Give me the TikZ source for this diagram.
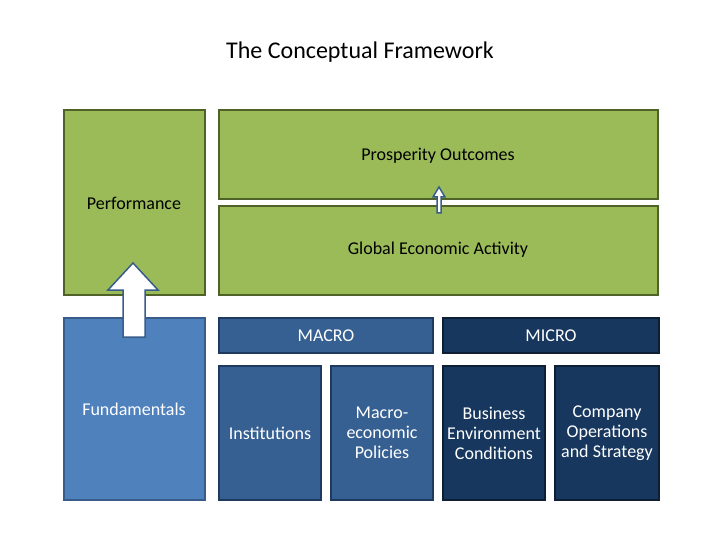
\documentclass[tikz,border=0pt]{standalone}
\usepackage{fontspec}
\setmainfont{Carlito}
\begin{document}
\begin{tikzpicture}[x=1pt,y=-1pt,
  gbox/.style={draw=gbdr,fill=grn,line width=1.5pt},
  bbox/.style={draw=bdr,fill=blu,line width=1.5pt},
  mbox/.style={draw=mbdr,fill=mac,line width=1.5pt},
  nbox/.style={draw=nbdr,fill=mic,line width=1.5pt},
  wt/.style={text=white,font=\fontsize{18}{20}\selectfont,align=center},
  bt/.style={text=black,font=\fontsize{18}{20}\selectfont,align=center},
  arr/.style={draw=bdr,fill=white,line width=1.5pt}]
\definecolor{grn}{HTML}{9BBB59}
\definecolor{gbdr}{HTML}{4F6228}
\definecolor{blu}{HTML}{4F81BD}
\definecolor{bdr}{HTML}{385D8A}
\definecolor{mac}{HTML}{376092}
\definecolor{mbdr}{HTML}{1F3A5F}
\definecolor{mic}{HTML}{17375E}
\definecolor{nbdr}{HTML}{0F1F33}
\path[use as bounding box] (0,0) rectangle (720,540);
\node[font=\fontsize{24}{26}\selectfont] (title) at (360,52) {The Conceptual Framework};
\draw[gbox] (64,110) rectangle (205,295);
\draw[gbox] (219,110) rectangle (658,199);
\draw[gbox] (219,206) rectangle (658,295);
\draw[bbox] (64,318) rectangle (205,500);
\draw[mbox] (219,318) rectangle (433,353);
\draw[nbox] (443,318) rectangle (659,353);
\draw[mbox] (219,366) rectangle (321,500);
\draw[mbox] (331,366) rectangle (433,500);
\draw[nbox] (443,366) rectangle (545,500);
\draw[nbox] (555,366) rectangle (659,500);
\node[bt] (perf) at (134,203) {Performance};
\node[bt] (pros) at (438,156) {Prosperity Outcomes};
\node[bt] (gea) at (438,250) {Global Economic Activity};
\node[wt] (fund) at (134,409) {Fundamentals};
\node[wt] (macro) at (326,336) {MACRO};
\node[wt] (micro) at (551,336) {MICRO};
\node[wt] (inst) at (270,433) {Institutions};
\node[wt] (mep) at (382,433) {Macro-\\economic\\Policies};
\node[wt] (bec) at (494,433) {Business\\Environment\\Conditions};
\node[wt] (cos) at (607,433) {Company\\Operations\\and Strategy};
\draw[arr] (123,337) -- (123,290) -- (108,290) -- (133,263) -- (158,290) -- (145,290) -- (145,337) -- cycle;
\draw[arr] (437,213) -- (437,197) -- (433,197) -- (439,187) -- (445,197) -- (441,197) -- (441,213) -- cycle;
\end{tikzpicture}
\end{document}
